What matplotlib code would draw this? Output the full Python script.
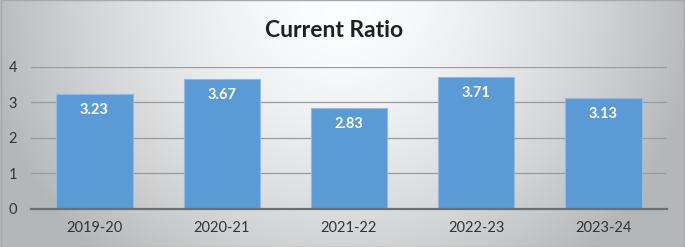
import numpy as np
import matplotlib
matplotlib.use("Agg")
import matplotlib.pyplot as plt

categories = ["2019-20", "2020-21", "2021-22", "2022-23", "2023-24"]
values = [3.23, 3.67, 2.83, 3.71, 3.13]
yticks = [0, 1, 2, 3, 4]
title = "Current Ratio"

plt.rcParams['font.family'] = ['Lato', 'DejaVu Sans']

fig = plt.figure(figsize=(6.85, 2.47), dpi=100)

# radial gradient background
bg = fig.add_axes([0, 0, 1, 1], zorder=0)
H, W = 247, 685
yy, xx = np.mgrid[0:H, 0:W]
cx, cy = 340, 10
r = np.sqrt(((xx - cx) / 360.0) ** 2 + ((yy - cy) / 330.0) ** 2)
r = np.clip(r, 0, 1)
light = 1.0 - 0.28 * r ** 1.5
img = np.dstack([light * 0.99, light * 0.995, light * 1.0])
bg.imshow(np.clip(img, 0, 1), extent=[0, W, H, 0], aspect='auto')
bg.set_xlim(0, W)
bg.set_ylim(H, 0)
bg.axis('off')
bg.add_patch(plt.Rectangle((0.5, 0.5), W - 1, H - 1, fill=False, ec='#A8A8A8', lw=1))

ax = fig.add_axes([0.045, 0.154, 0.929, 0.575], zorder=1)
ax.patch.set_alpha(0)
x = np.arange(len(categories))
bars = ax.bar(x, values, width=0.6, color='#5B9BD5', edgecolor='#8DBBE6', linewidth=0.8, zorder=3)
for xi, v in zip(x, values):
    ax.text(xi, v - 0.45, f"{v:.2f}", ha='center', va='center', color='white',
            fontsize=10.5, fontweight='bold', zorder=4)
ax.set_ylim(0, 4)
ax.set_xlim(-0.5, len(categories) - 0.5)
ax.set_yticks(yticks)
ax.set_xticks(x)
ax.set_xticklabels(categories)
ax.grid(axis='y', color='#9A9A9A', lw=0.9, zorder=0)
for s in ['top', 'right', 'left']:
    ax.spines[s].set_visible(False)
ax.spines['bottom'].set_color('#6E6E6E')
ax.spines['bottom'].set_linewidth(1.6)
ax.spines['bottom'].set_zorder(5)
ax.tick_params(axis='both', length=0, labelsize=10.5, colors='#333333')
ax.tick_params(axis='x', pad=9)
ax.tick_params(axis='y', pad=10)
fig.text(0.487, 0.875, title, ha='center', va='center', fontsize=16.5, fontweight='bold', color='#1F1F1F')

fig.savefig("out.png", dpi=100)
